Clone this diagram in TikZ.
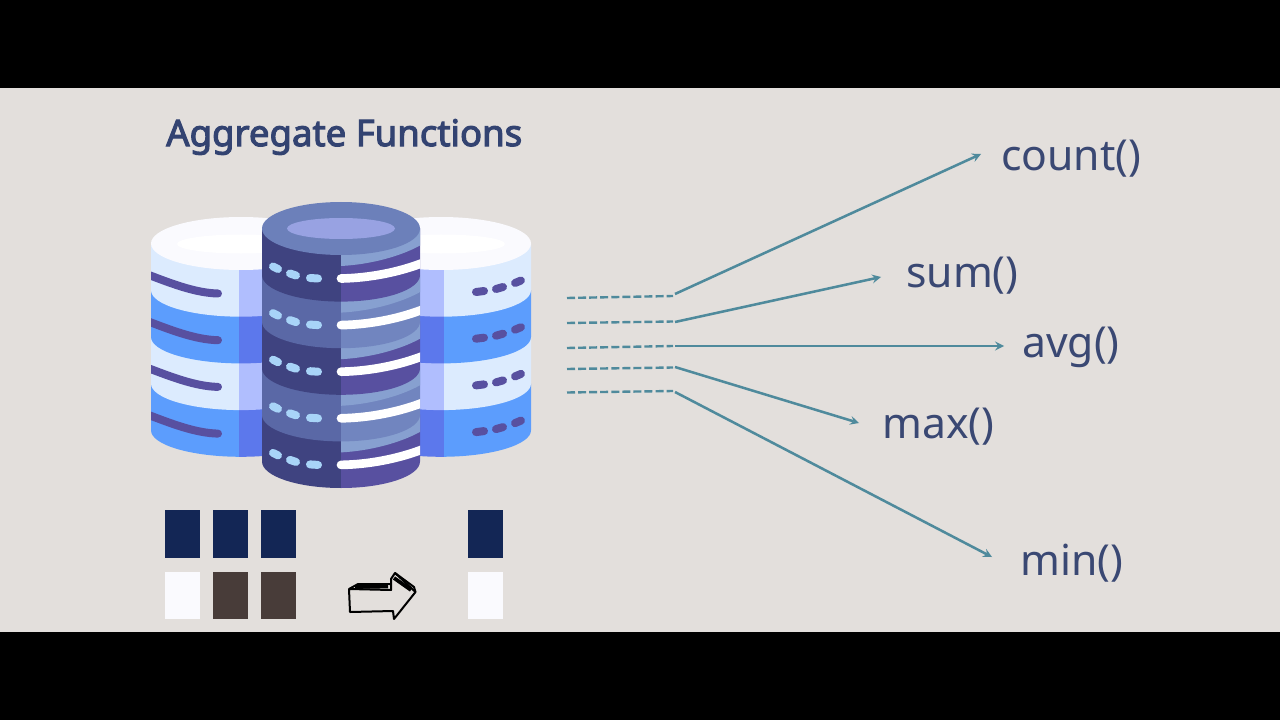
\documentclass[tikz,border=0pt]{standalone}
\usepackage{fontspec}
\setmainfont{Noto Sans}
\newfontfamily\titlefont[FakeBold=3]{Noto Sans}
\definecolor{slidecolor}{RGB}{227,223,220}
\definecolor{titlecolor}{RGB}{51,67,113}
\definecolor{labelcolor}{RGB}{58,72,115}
\definecolor{tealcolor}{RGB}{79,138,156}
\definecolor{navycolor}{RGB}{19,38,85}
\definecolor{browncolor}{RGB}{72,60,57}
\definecolor{papercolor}{RGB}{250,250,254}
\definecolor{palecolor}{RGB}{220,235,254}
\definecolor{palesidecolor}{RGB}{176,190,254}
\definecolor{bluecolor}{RGB}{92,157,253}
\definecolor{bluesidecolor}{RGB}{92,120,236}
\definecolor{inkcolor}{RGB}{88,80,160}
\definecolor{darkleftcolor}{RGB}{63,67,128}
\definecolor{midleftcolor}{RGB}{90,104,166}
\definecolor{midrightcolor}{RGB}{113,133,191}
\definecolor{glintcolor}{RGB}{135,160,208}
\definecolor{capcolor}{RGB}{108,128,186}
\definecolor{capinnercolor}{RGB}{152,162,226}
\definecolor{dotcolor}{RGB}{168,212,248}
\tikzset{
  funclabel/.style={anchor=west,inner sep=0pt,text=labelcolor,font=\fontsize{32}{32}\selectfont},
  dashlink/.style={tealcolor,line width=1.8pt,dash pattern=on 6pt off 2.3pt},
  funclink/.style={tealcolor,line width=1.9pt,-stealth},
  cell/.style={inner sep=0pt,minimum width=26.25pt,minimum height=35.5pt},
  barline/.style={inkcolor,line width=6pt,line cap=round},
  dotline/.style={line width=6pt,line cap=round},
}
% one slice of a cylinder: centre x, half width, half height, y of the slice, height, colour
\newcommand{\dbslice}[6]{
  \fill[#6] (#1-#2,#4) -- (#1-#2,#4+#5) arc[start angle=180,end angle=0,x radius=#2,y radius=#3] -- (#1+#2,#4) -- cycle;
}
\begin{document}
\begin{tikzpicture}[x=0.75pt,y=-0.75pt]
  \fill[black] (0,0) rectangle (1280,720);
  \fill[slidecolor] (0,88) rectangle (1280,632);
  \node[anchor=west,inner sep=0pt,text=titlecolor,font=\fontsize{27.4}{27.4}\selectfont\titlefont] (title) at (166,137) {Aggregate Functions};

  \begin{scope}
    \clip (151,200) rectangle (239,470);
    \foreach \i/\cl in {3/bluecolor,2/palecolor,1/bluecolor,0/palecolor} {
      \pgfmathsetmacro{\yc}{243.5+\i*46.7}
      \dbslice{241}{90}{26.5}{\yc}{46.7}{\cl}
    }
  \end{scope}
  \begin{scope}
    \clip (239,200) rectangle (331,470);
    \foreach \i/\cl in {3/bluesidecolor,2/palesidecolor,1/bluesidecolor,0/palesidecolor} {
      \pgfmathsetmacro{\yc}{243.5+\i*46.7}
      \dbslice{241}{90}{26.5}{\yc}{46.7}{\cl}
    }
  \end{scope}
  \begin{scope}
    \clip (351,200) rectangle (444,470);
    \foreach \i/\cl in {3/bluesidecolor,2/palesidecolor,1/bluesidecolor,0/palesidecolor} {
      \pgfmathsetmacro{\yc}{243.5+\i*46.7}
      \dbslice{441}{90}{26.5}{\yc}{46.7}{\cl}
    }
  \end{scope}
  \begin{scope}
    \clip (444,200) rectangle (531,470);
    \foreach \i/\cl in {3/bluecolor,2/palecolor,1/bluecolor,0/palecolor} {
      \pgfmathsetmacro{\yc}{243.5+\i*46.7}
      \dbslice{441}{90}{26.5}{\yc}{46.7}{\cl}
    }
  \end{scope}
  \foreach \cx in {241,441} {
    \fill[papercolor] (\cx,243.5) ellipse[x radius=90,y radius=26.5];
    \fill[white] (\cx,244) ellipse[x radius=64,y radius=9.5];
  }
  \begin{scope}
    \clip (151,200) rectangle (300,470);
    \foreach \i in {0,1,2,3} {
      \pgfmathsetmacro{\dy}{\i*46.7}
      \draw[barline] (145,{273.5+\dy}) .. controls (170,{283+\dy}) and (195,{293+\dy}) .. (218,{293.5+\dy});
    }
  \end{scope}
  \foreach \i in {0,1,2,3} {
    \pgfmathsetmacro{\dy}{\i*46.7}
    \draw[barline] (476,{292+\dy}) -- (484,{291+\dy});
    \draw[barline] (496,{289+\dy}) -- (503,{287+\dy});
    \draw[barline] (515,{283+\dy}) -- (521,{280.5+\dy});
  }

  \begin{scope}
    \clip (262,200) rectangle (341,495);
    \foreach \i/\cl in {4/darkleftcolor,3/midleftcolor,2/darkleftcolor,1/midleftcolor,0/darkleftcolor} {
      \pgfmathsetmacro{\yc}{228.5+\i*46.6}
      \dbslice{341}{79}{26.5}{\yc}{46.6}{\cl}
    }
  \end{scope}
  \begin{scope}
    \clip (341,200) rectangle (420,495);
    \foreach \i/\cl in {4/inkcolor,3/midrightcolor,2/inkcolor,1/midrightcolor,0/inkcolor} {
      \pgfmathsetmacro{\yc}{228.5+\i*46.6}
      \dbslice{341}{79}{26.5}{\yc}{46.6}{\cl}
      \fill[glintcolor] (341,\yc) -- (341,{\yc+37.5}) .. controls (370,{\yc+36}) and (400,{\yc+28}) .. (420,{\yc+17}) -- (420,\yc) -- cycle;
    }
  \end{scope}
  \fill[capcolor] (341,228.5) ellipse[x radius=79,y radius=26.5];
  \fill[capinnercolor] (341,228.5) ellipse[x radius=54,y radius=10.5];
  \begin{scope}
    \clip (262,200) rectangle (420,495);
    \foreach \i in {0,1,2,3,4} {
      \pgfmathsetmacro{\dy}{\i*46.6}
      \draw[white,line width=6.5pt,line cap=round] (341,{278.5+\dy}) .. controls (370,{278+\dy}) and (400,{272+\dy}) .. (425,{262+\dy});
      \draw[dotline,dotcolor] (273,{266.5+\dy}) -- (278,{269+\dy});
      \draw[dotline,dotcolor] (290,{273.5+\dy}) -- (296,{275.5+\dy});
      \draw[dotline,dotcolor] (310,{278+\dy}) -- (318,{278.5+\dy});
    }
  \end{scope}

  \node[cell,fill=navycolor] (n1) at (182.5,534) {};
  \node[cell,fill=navycolor] (n2) at (230.5,534) {};
  \node[cell,fill=navycolor] (n3) at (278.5,534) {};
  \node[cell,fill=navycolor] (n4) at (485.5,534) {};
  \node[cell,fill=papercolor] (c1) at (182.5,595.5) {};
  \node[cell,fill=browncolor] (c2) at (230.5,595.5) {};
  \node[cell,fill=browncolor] (c3) at (278.5,595.5) {};
  \node[cell,fill=papercolor] (c4) at (485.5,595.5) {};
  \draw[black,line width=1.5pt,line join=round] (349,589) -- (350,612) -- (393,611) -- (394,619) -- (415.5,592) -- (395,573) -- (391,579) -- (391,590) -- (349,589) -- (358,584) -- (391,584);
  \draw[black,line width=1.5pt,line join=round] (395,573) -- (414,587) -- (415.5,592);
  \draw[black,line width=2.8pt] (355,587) -- (388,586.5);
  \draw[black,line width=2.8pt] (394,578) -- (411,590);

  \node[funclabel] (count) at (1001,158.5) {count()};
  \node[funclabel] (sum) at (906,275.5) {sum()};
  \node[funclabel] (avg) at (1022,347.5) {avg()};
  \node[funclabel] (max) at (882,426.5) {max()};
  \node[funclabel] (min) at (1020,563.5) {min()};

  \foreach \name/\ya/\yb in {d1/298/296,d2/323/321.5,d3/348/346,d4/369/367.5,d5/392.5/391} {
    \coordinate (\name a) at (567,\ya);
    \coordinate (\name b) at (673,\yb);
    \draw[dashlink] (\name a) -- (\name b);
  }
  \foreach \name/\xa/\ya/\xb/\yb in {count/675/294/981/154,sum/675/322/881/277,avg/675/346/1004/346,max/675/367/859/423,min/675/392/992/557} {
    \coordinate (\name from) at (\xa,\ya);
    \coordinate (\name tip) at (\xb,\yb);
    \draw[funclink] (\name from) -- (\name tip);
  }
\end{tikzpicture}
\end{document}
